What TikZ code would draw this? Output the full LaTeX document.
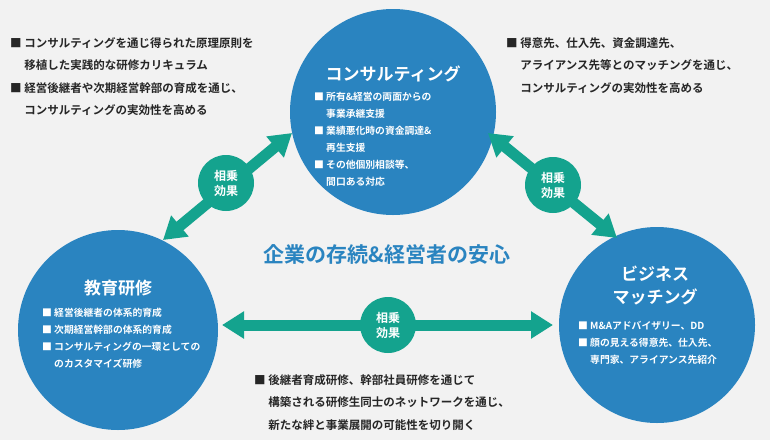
\documentclass[tikz,border=0pt]{standalone}
\usepackage{fontspec}
\setmainfont{Noto Sans CJK JP}[BoldFont={Noto Sans CJK JP Bold}]
\usetikzlibrary{arrows.meta}
\definecolor{bg}{HTML}{F2F2F2}
\definecolor{cblue}{HTML}{2A84C0}
\definecolor{teal}{HTML}{14A38E}
\begin{document}
\begin{tikzpicture}[x=1pt,y=-1pt,
  big/.style={circle,fill=cblue,minimum size=#1,inner sep=0},
  syn/.style={circle,fill=teal,minimum size=56,inner sep=0,text=white,font=\bfseries\fontsize{12}{15}\selectfont,align=center},
  arr/.style={teal,line width=11pt,{Triangle[width=26pt,length=22pt]}-{Triangle[width=26pt,length=22pt]}},
  note/.style={anchor=north west,align=left,font=\bfseries\fontsize{11.5}{22.5}\selectfont,text=black!85,inner sep=0},
  inner/.style={align=left,text=white,font=\bfseries\fontsize{9.8}{17}\selectfont,inner sep=0},
  title/.style={text=white,font=\bfseries\fontsize{17}{23}\selectfont,align=center,inner sep=0}]
\fill[bg] (0,0) rectangle (770,440);
\useasboundingbox (0,0) rectangle (770,440);
\node[big=206] (C) at (393,112) {};
\node[big=200] (E) at (118,330) {};
\node[big=196] (B) at (657,325) {};
\coordinate (a1) at (163,240); \coordinate (a2) at (292,133);
\coordinate (b1) at (488,133); \coordinate (b2) at (617,238);
\coordinate (c1) at (222,325); \coordinate (c2) at (553,325);
\draw[arr] (a1) -- (a2);
\draw[arr] (b1) -- (b2);
\draw[arr] (c1) -- (c2);
\node[syn] (s1) at (226,183) {相乗\\効果};
\node[syn] (s2) at (553,185) {相乗\\効果};
\node[syn] (s3) at (388,325) {相乗\\効果};
\node[title] (ct) at (393,74) {コンサルティング};
\node[inner,anchor=north west] (ci) at (314,92) {■ 所有\&経営の両面からの\\\phantom{■ }事業承継支援\\■ 業績悪化時の資金調達\&\\\phantom{■ }再生支援\\■ その他個別相談等、\\\phantom{■ }間口ある対応};
\node[title] (et) at (118,288) {教育研修};
\node[inner,anchor=north west] (ei) at (42,308) {■ 経営後継者の体系的育成\\■ 次期経営幹部の体系的育成\\■ コンサルティングの一環としての\\\phantom{■ }のカスタマイズ研修};
\node[title] (bt) at (655,286) {ビジネス\\マッチング};
\node[inner,anchor=north west] (bi) at (578,321) {■ M\&Aアドバイザリー、DD\\■ 顔の見える得意先、仕入先、\\\phantom{■ }専門家、アライアンス先紹介};
\node[text=cblue,font=\bfseries\fontsize{21}{24}\selectfont] (m) at (387,254) {企業の存続\&経営者の安心};
\node[note] (n1) at (10,37) {■ コンサルティングを通じ得られた原理原則を\\\phantom{■ }移植した実践的な研修カリキュラム\\■ 経営後継者や次期経営幹部の育成を通じ、\\\phantom{■ }コンサルティングの実効性を高める};
\node[note] (n2) at (506,37) {■ 得意先、仕入先、資金調達先、\\\phantom{■ }アライアンス先等とのマッチングを通じ、\\\phantom{■ }コンサルティングの実効性を高める};
\node[note] (n3) at (254,374) {■ 後継者育成研修、幹部社員研修を通じて\\\phantom{■ }構築される研修生同士のネットワークを通じ、\\\phantom{■ }新たな絆と事業展開の可能性を切り開く};
\end{tikzpicture}
\end{document}
